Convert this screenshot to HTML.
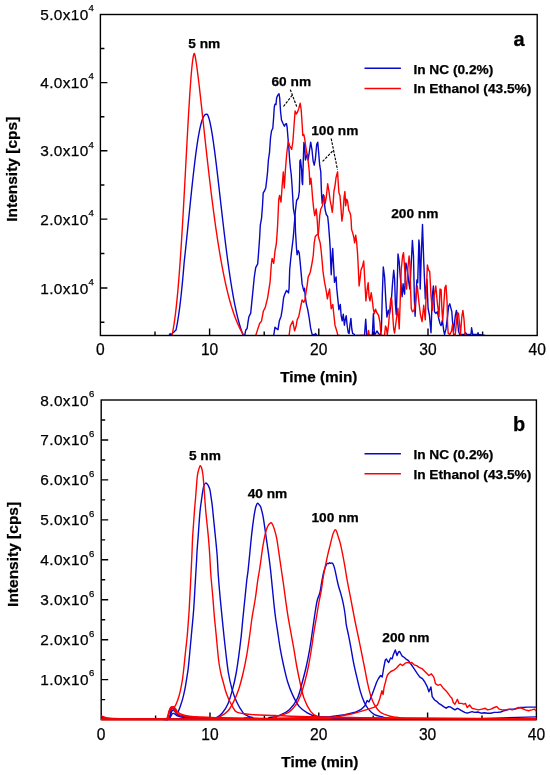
<!DOCTYPE html>
<html><head><meta charset="utf-8"><title>Chromatograms</title><style>
html,body{margin:0;padding:0;background:#fff;width:550px;height:775px;overflow:hidden}
svg{display:block}
text{font-family:"Liberation Sans",Arial,sans-serif;fill:#000;stroke:#000;stroke-width:0.25px}
.tl{font-size:15.6px}
.yl{font-size:15.4px;letter-spacing:0.4px}
.sup{font-size:9.6px}
.ti{font-size:15.3px;font-weight:bold}
.ti2{font-size:15.5px;font-weight:bold}
.an{font-size:13.7px;font-weight:bold}
.pl{font-size:20px;font-weight:bold}
</style></head><body>
<svg width="550" height="775" viewBox="0 0 550 775">
<defs><clipPath id="ca"><rect x="100.4" y="14.5" width="436.8" height="320.6"/></clipPath><clipPath id="cb"><rect x="101.2" y="400" width="435.2" height="321.5"/></clipPath></defs>
<g clip-path="url(#ca)">
<g fill="none" stroke-width="1.4" stroke-linejoin="round" stroke-linecap="round">
<path d="M169,335.6 L170.2,333.6 L171.3,334.8 L172.9,332.7 L174.4,331.6 L176,330.04 L176.22,328.99 L176.44,327.92 L176.66,326.82 L176.87,325.69 L177.09,324.52 L177.3,323.33 L177.52,322.1 L177.73,320.84 L177.94,319.55 L178.15,318.23 L178.36,316.87 L178.57,315.48 L178.78,314.06 L178.99,312.6 L179.19,311.12 L179.4,309.6 L179.6,308.04 L179.81,306.46 L180.01,304.84 L180.21,303.18 L180.41,301.5 L180.61,299.78 L180.81,298.03 L181.01,296.25 L181.2,294.43 L181.4,292.59 L181.59,290.71 L181.79,288.8 L181.98,286.86 L182.17,284.9 L182.36,282.9 L182.56,280.87 L182.74,278.82 L182.93,276.73 L183.12,274.63 L183.31,272.49 L183.49,270.33 L183.68,268.14 L183.87,265.93 L184.05,263.7 L184.25,261.44 L184.5,259.16 L184.75,256.86 L185,254.55 L185.25,252.21 L185.5,249.86 L185.75,247.49 L186,245.1 L186.25,242.7 L186.5,240.29 L186.75,237.87 L187,235.44 L187.25,232.99 L187.5,230.54 L187.75,228.09 L188,225.62 L188.25,223.16 L188.5,220.69 L188.75,218.22 L189,215.75 L189.25,213.28 L189.5,210.82 L189.75,208.36 L190,205.9 L190.25,203.46 L190.5,201.02 L190.75,198.59 L191,196.18 L191.25,193.78 L191.5,191.39 L191.75,189.02 L192,186.67 L192.25,184.33 L192.5,182.02 L192.75,179.73 L193,177.46 L193.25,175.21 L193.5,173 L193.75,170.81 L194,168.64 L194.25,166.51 L194.5,164.41 L194.75,162.34 L195,160.31 L195.25,158.31 L195.5,156.34 L195.75,154.42 L196,152.53 L196.25,150.68 L196.5,148.87 L196.75,147.1 L197,145.37 L197.25,143.69 L197.5,142.05 L197.75,140.45 L198,138.9 L198.25,137.39 L198.5,135.93 L198.75,134.52 L199,133.15 L199.25,131.83 L199.5,130.57 L199.75,129.34 L200,128.17 L200.25,127.05 L200.5,125.97 L200.75,124.95 L201,123.97 L201.25,123.04 L201.5,122.17 L201.75,121.34 L202,120.56 L202.25,119.83 L202.5,119.15 L202.75,118.51 L203,117.92 L203.25,117.38 L203.5,116.89 L203.75,116.44 L204,116.03 L204.25,115.67 L204.5,115.35 L204.75,115.08 L205,114.84 L205.25,114.64 L205.5,114.48 L205.75,114.35 L206,114.26 L206.25,114.2 L206.5,114.16 L206.75,114.15 L207,114.21 L207.25,114.41 L207.5,114.73 L207.75,115.14 L208,115.65 L208.25,116.24 L208.5,116.91 L208.75,117.66 L209,118.48 L209.25,119.37 L209.5,120.32 L209.75,121.35 L210,122.43 L210.25,123.57 L210.5,124.77 L210.75,126.03 L211,127.34 L211.25,128.7 L211.5,130.11 L211.75,131.57 L212,133.08 L212.25,134.63 L212.5,136.22 L212.75,137.86 L213,139.53 L213.25,141.24 L213.5,142.99 L213.75,144.77 L214,146.59 L214.25,148.43 L214.5,150.31 L214.75,152.21 L215,154.15 L215.25,156.1 L215.5,158.08 L215.75,160.09 L216,162.11 L216.25,164.16 L216.5,166.22 L216.75,168.31 L217,170.4 L217.25,172.52 L217.5,174.64 L217.75,176.78 L218,178.93 L218.25,181.09 L218.5,183.25 L218.75,185.43 L219,187.61 L219.25,189.79 L219.5,191.98 L219.75,194.18 L220,196.37 L220.25,198.57 L220.5,200.76 L220.75,202.96 L221,205.15 L221.25,207.34 L221.5,209.53 L221.75,211.71 L222,213.88 L222.25,216.05 L222.5,218.21 L222.75,220.37 L223,222.51 L223.25,224.65 L223.5,226.77 L223.75,228.88 L224,230.99 L224.25,233.08 L224.5,235.15 L224.75,237.22 L225,239.27 L225.25,241.3 L225.5,243.32 L225.75,245.33 L226,247.31 L226.25,249.28 L226.5,251.24 L226.75,253.18 L227,255.09 L227.25,256.99 L227.5,258.88 L227.75,260.74 L228,262.58 L228.25,264.4 L228.5,266.21 L228.75,267.99 L229,269.75 L229.25,271.5 L229.5,273.22 L229.75,274.92 L230,276.6 L230.25,278.25 L230.5,279.89 L230.75,281.5 L231,283.1 L231.25,284.67 L231.5,286.21 L231.75,287.74 L232,289.24 L232.25,290.73 L232.5,292.19 L232.75,293.63 L233,295.04 L233.25,296.43 L233.5,297.81 L233.75,299.16 L234,300.48 L234.25,301.79 L234.5,303.07 L234.75,304.34 L235,305.58 L235.25,306.79 L235.5,307.99 L235.75,309.17 L236,310.32 L236.25,311.46 L236.5,312.57 L236.75,313.66 L237,314.73 L237.25,315.78 L237.5,316.82 L237.75,317.83 L238,318.82 L238.25,319.79 L238.5,320.74 L238.75,321.67 L239,322.59 L239.25,323.48 L239.5,324.36 L239.75,325.21 L240,326.05 L240.25,326.87 L240.5,327.68 L240.75,328.46 L241,329.23 L241.25,329.98 L241.5,330.72 L241.75,331.44 L242,332.14 L242.25,332.83 L242.5,333.5 L242.75,334.15 L243,334.79 L243.25,335.41 L243.5,336.02 L243.75,336.62" stroke="#0808c8"/>
<path d="M244,335.5 L244.8,334.8 L245.7,330.3 L247.1,328.5 L248,322.2 L248.9,316.8 L250.7,313.1 L251.6,304.1 L252.5,295.1 L253.4,286.1 L254.3,277 L255.7,267.7 L257.7,263.9 L258.6,252.3 L259.6,238.1 L260.3,225.2 L261.5,218.7 L262.5,205.8 L263.2,192.9 L264.5,191 L265.8,187.7 L266.7,180 L267.6,171.6 L268.4,160 L269.5,152.6 L270.5,138 L271.5,131 L272.8,128.3 L273.6,118 L274.3,107 L275,104.2 L276,104.5 L276.6,98 L277.6,95.4 L279,93.7 L279.7,98 L280.6,112 L281.5,120 L283,123.5 L284.4,126.2 L285.5,124 L286.4,123.5 L287.1,127 L288,138 L288.8,147 L289.5,158 L290.4,168 L291.2,174 L292,185 L292.6,195 L293.4,208.7 L295.1,218 L295.5,232 L296,240 L296.5,248.5 L297.1,254.8 L298.2,250.6 L299.2,252.7 L300.2,262.6 L301.1,272.6 L302.1,283.9 L303.1,288.2 L303.9,291 L304.5,288.2 L305.3,296.7 L306.3,303.8 L307.7,309.4 L309.2,318 L310.6,327.9 L312,334.2 L314.2,335 L315.6,333.6 L317,335.5" stroke="#0808c8"/>
<path d="M273.7,335.5 L275,327.2 L276.2,328.4 L278,329.7 L279.3,321.1 L281.1,316.2 L282.3,308.8 L283.6,297.8 L284.8,294.1 L286.6,290.4 L288.5,292.9 L289.1,288 L289.7,269.5 L290.9,257.3 L292.1,247 L293.2,238 L294.2,226 L295.3,212 L296.6,200.5 L298.3,198 L299.3,191.5 L299.7,176 L299.9,161 L300.5,159.7 L301.6,170 L302.1,182 L302.6,184.5 L303.3,160.1 L303.9,142.5 L304.7,146.6 L305.4,160 L306.3,157 L307.3,154.2 L308.2,160 L309.3,152 L310.7,142.2 L312,149.8 L313.1,160.8 L314.2,165.2 L315.3,159.7 L316.7,144.4 L317.8,142.2 L318.6,152 L319.7,165.2 L320.8,172 L321.2,185 L321.6,195 L322.2,203.5 L323.3,194.8 L324.1,200.2 L325.2,210.1 L326.3,214.5 L327.7,216.7 L328.5,224.4 L329.6,238.6 L330.3,250 L330.6,260 L331.2,274.7 L332,258 L332.7,248.5 L333.5,264 L334.5,282.4 L336.1,276.9 L336.7,287.9 L337.8,298.9 L338.9,309.8 L340.3,304.4 L341.1,315.3 L342.2,320.8 L343.3,314.2 L344.4,325.2 L345.2,320 L346.2,315.8 L347.2,326 L348.2,332.5 L349.1,333.6 L350,324.5 L350.9,318.4 L351.8,329 L352.7,333.6 L354.1,334.1 L355,335.5" stroke="#0808c8"/>
<path d="M356,335.5 L364.5,335.5 L365.7,319.1 L366.8,335.5 L372.3,335.5 L373.4,313.6 L374.5,335.5 L376.9,331 L378.2,333 L380.2,335.5 L381.4,330 L382.3,295 L383.3,267 L384.6,277 L385.8,300 L386.9,317 L387.9,312.2 L388.5,310.2 L389.4,314.7 L391.1,304.4 L392.4,285.1 L393.7,270.3 L394.6,278.7 L395.4,304.4 L396.3,314.7 L397.2,285.1 L398,254 L399.1,261 L400.1,274.8 L401.4,289 L402.1,296.7 L403.1,283.8 L404,291.5 L404.6,294.1 L405.9,263 L407.2,268.4 L408.8,282.5 L409.8,289 L410.6,275 L411.3,262 L412.4,240.5 L413.5,256 L414.4,300 L415.1,316.3 L416.3,290 L416.9,280 L417.7,282.7 L418.9,240 L419.5,246.4 L420.2,289 L421.3,255.3 L422.5,224.5 L423.7,260.2 L425.3,298.9 L426.9,279.5 L428.1,308.5 L429.4,315 L431,332.7 L432.3,295.6 L433.4,286 L434.5,311.8 L435.8,313.4 L437.4,311.8 L439,319.8 L440,323.5 L441.1,325.6 L442.4,320.2 L443.8,331.1 L444.6,334.4 L446,328.9 L447.6,315.8 L448.7,306 L449.8,303.8 L450.9,308.2 L451.8,311.5 L452.5,321.3 L453.6,331.1 L455.3,315.8 L456.4,310.4 L457.5,319.1 L458.5,331.1 L459.6,334.4 L464.5,334.4 L465.6,332.7 L466.7,334.4 L471,334.4 L471.6,327.8 L472.7,334.4 L477.5,334.4 L478,332.7 L478.7,334.4 L485,335.5" stroke="#0808c8"/>
<path d="M171.75,336.51 L172,335.39 L172.25,334.2 L172.5,332.97 L172.75,331.68 L173,330.33 L173.25,328.92 L173.5,327.45 L173.75,325.92 L174,324.33 L174.25,322.67 L174.5,320.94 L174.75,319.15 L175,317.28 L175.25,315.35 L175.5,313.34 L175.75,311.25 L176,309.09 L176.25,306.85 L176.5,304.54 L176.75,302.14 L177,299.67 L177.25,297.11 L177.5,294.48 L177.75,291.76 L178,288.95 L178.25,286.07 L178.5,283.1 L178.75,280.04 L179,276.91 L179.25,273.68 L179.5,270.38 L179.75,266.99 L180,263.52 L180.25,259.97 L180.5,256.34 L180.75,252.63 L181,248.84 L181.25,244.97 L181.5,241.03 L181.75,237.02 L182,232.94 L182.25,228.79 L182.5,224.58 L182.75,220.3 L183,215.97 L183.25,211.58 L183.5,207.14 L183.75,202.65 L184,198.12 L184.25,193.55 L184.5,188.94 L184.75,184.31 L185,179.65 L185.25,174.97 L185.5,170.28 L185.75,165.58 L186,160.88 L186.25,156.19 L186.5,151.5 L186.75,146.84 L187,142.19 L187.25,137.58 L187.5,133.01 L187.75,128.48 L188,124.01 L188.25,119.6 L188.5,115.25 L188.75,110.98 L189,106.8 L189.25,102.71 L189.5,98.72 L189.75,94.84 L190,91.08 L190.25,87.44 L190.5,83.94 L190.75,80.57 L191,77.36 L191.25,74.31 L191.5,71.43 L191.75,68.72 L192,66.2 L192.25,63.87 L192.5,61.74 L192.75,59.83 L193,58.14 L193.25,56.68 L193.5,55.46 L193.75,54.5 L194,53.82 L194.25,53.44 L194.5,53.63 L194.75,54.46 L195,55.52 L195.25,56.75 L195.5,58.11 L195.75,59.57 L196,61.13 L196.25,62.76 L196.5,64.46 L196.75,66.22 L197,68.05 L197.25,69.92 L197.5,71.84 L197.75,73.8 L198,75.8 L198.25,77.83 L198.5,79.9 L198.75,81.99 L199,84.11 L199.25,86.26 L199.5,88.43 L199.75,90.62 L200,92.83 L200.25,95.05 L200.5,97.29 L200.75,99.54 L201,101.81 L201.25,104.08 L201.5,106.37 L201.75,108.66 L202,110.96 L202.25,113.26 L202.5,115.57 L202.75,117.88 L203,120.19 L203.25,122.5 L203.5,124.82 L203.75,127.13 L204,129.45 L204.25,131.76 L204.5,134.06 L204.75,136.37 L205,138.67 L205.25,140.96 L205.5,143.25 L205.75,145.54 L206,147.81 L206.25,150.08 L206.5,152.34 L206.75,154.6 L207,156.84 L207.25,159.08 L207.5,161.3 L207.75,163.52 L208,165.72 L208.25,167.91 L208.5,170.1 L208.75,172.27 L209,174.43 L209.25,176.57 L209.5,178.71 L209.75,180.83 L210,182.93 L210.25,185.03 L210.5,187.11 L210.75,189.18 L211,191.23 L211.25,193.27 L211.5,195.29 L211.75,197.3 L212,199.29 L212.25,201.27 L212.5,203.24 L212.75,205.18 L213,207.12 L213.25,209.03 L213.5,210.94 L213.75,212.82 L214,214.69 L214.25,216.55 L214.5,218.38 L214.75,220.21 L215,222.01 L215.25,223.8 L215.5,225.57 L215.75,227.33 L216,229.07 L216.25,230.79 L216.5,232.5 L216.75,234.19 L217,235.87 L217.25,237.53 L217.5,239.17 L217.75,240.79 L218,242.4 L218.25,244 L218.5,245.57 L218.75,247.13 L219,248.67 L219.25,250.2 L219.5,251.71 L219.75,253.21 L220,254.69 L220.25,256.15 L220.5,257.59 L220.75,259.02 L221,260.44 L221.25,261.84 L221.5,263.22 L221.75,264.59 L222,265.94 L222.25,267.27 L222.5,268.59 L222.75,269.9 L223,271.19 L223.25,272.46 L223.5,273.72 L223.75,274.97 L224,276.19 L224.25,277.41 L224.5,278.61 L224.75,279.79 L225,280.96 L225.25,282.12 L225.5,283.26 L225.75,284.39 L226,285.5 L226.25,286.6 L226.5,287.68 L226.75,288.75 L227,289.81 L227.25,290.85 L227.5,291.88 L227.75,292.9 L228,293.9 L228.25,294.89 L228.5,295.87 L228.75,296.83 L229,297.78 L229.25,298.72 L229.5,299.64 L229.75,300.56 L230,301.46 L230.25,302.34 L230.5,303.22 L230.75,304.08 L231,304.94 L231.25,305.78 L231.5,306.6 L231.75,307.42 L232,308.23 L232.25,309.02 L232.5,309.8 L232.75,310.57 L233,311.34 L233.25,312.09 L233.5,312.82 L233.75,313.55 L234,314.27 L234.25,314.98 L234.5,315.67 L234.75,316.36 L235,317.04 L235.25,317.71 L235.5,318.36 L235.75,319.01 L236,319.65 L236.25,320.28 L236.5,320.89 L236.75,321.5 L237,322.1 L237.25,322.7 L237.5,323.28 L237.75,323.85 L238,324.42 L238.25,324.97 L238.5,325.52 L238.75,326.06 L239,326.59 L239.25,327.11 L239.5,327.63 L239.75,328.13 L240,328.63 L240.25,329.12 L240.5,329.6 L240.75,330.08 L241,330.55 L241.25,331.01 L241.5,331.46 L241.75,331.91 L242,332.35 L242.25,332.78 L242.5,333.2 L242.75,333.62 L243,334.03 L243.25,334.44 L243.5,334.83 L243.75,335.23 L244,335.61 L244.25,335.99 L244.5,336.36 L244.75,336.73" stroke="#ff0000"/>
<path d="M255.7,335.5 L257.2,330.9 L259.6,323.5 L261.5,321.1 L263.3,311.3 L265.2,307.6 L267.6,297.8 L270.1,281.8 L271.3,264.6 L272.1,258.5 L273.7,263.4 L275,251.1 L276.3,244 L277,235 L277.7,223.8 L278.3,210 L278.7,200 L279.6,195.5 L281,202 L282.4,182.5 L283.3,172 L284.3,188 L285.4,170 L286.7,154 L288.2,141.5 L289.8,146 L291.7,149.3 L292.9,141.5 L294,126 L295.1,111 L296.2,114 L297.5,112 L298.8,108.5 L300.2,103.3 L301.2,110 L302,122 L302.8,135.5 L303.8,134.5 L304.8,139.5 L305.6,145.5 L306.6,152 L307.6,156.5 L308.5,164 L309.3,172 L309.8,184.5 L310.9,178.3 L311.5,183.8 L312.5,197 L313.6,207.9 L314.7,215.6 L316.2,209 L316.9,215.6 L317.5,224.4 L318,233.1 L318.6,237.5 L320.2,243 L321.3,252 L322.2,262 L323,271.5 L324.6,282.4 L326.3,291.2 L327.4,298.9 L328.5,293.4 L329.6,289 L330.3,298.9 L331.2,308.7 L332.8,304.4 L333.9,315.3 L335,325.2 L336.7,330.7 L337.8,335.1 L340,335.5" stroke="#ff0000"/>
<path d="M289.1,335.5 L290.3,326 L292.8,321.1 L294.6,330.9 L296.1,326.3 L297.2,319.7 L298.8,316.4 L300.5,307.6 L302.1,300 L303.8,302.2 L304.9,300 L306,292.3 L307.1,285.7 L308.2,276.9 L309.8,273.6 L310.4,271.5 L311.5,266 L312.5,260.5 L313.3,255 L314.2,243 L315.3,236.4 L316.9,234.8 L318.3,234.2 L318.9,228 L319.7,215.6 L320.8,209 L322.4,205.7 L323.3,200.2 L324.1,195.8 L325.2,203.5 L326.3,196.9 L327.7,183.8 L329,191.5 L330.1,200.2 L331.2,205.7 L332.3,212.3 L333.2,202.4 L333.9,191.5 L335,186 L336.1,177.2 L337.6,171.8 L338.3,183.8 L338.9,192.5 L340,195.8 L340.8,205.7 L341.9,221.1 L343,213.4 L344.1,197 L344.9,191.5 L345.7,205.7 L346.6,199.1 L347.6,201.3 L348.7,210.1 L349.8,212.3 L350.6,215 L351.1,220 L351.6,229.6 L352.7,232.9 L353.8,237.3 L354.6,242.8 L355.7,235.1 L356.6,241.7 L357.5,252.6 L358.2,265.8 L359.1,286 L360,279.1 L361,270 L362.6,266 L363.7,261 L364.5,275 L365.9,300.9 L367.3,288.2 L368.2,282.7 L369.1,297.3 L370,300.9 L371.2,292.7 L372.3,300 L373.2,308.2 L374.3,313.6 L375.5,309.1 L376.8,312.7 L378.6,315.5 L380,322.7 L380.9,333.6 L381.4,335.5" stroke="#ff0000"/>
<path d="M360,335.5 L367.6,335.5 L368.5,330.5 L369.4,335.5 L381.4,335.5 L384.5,335.5 L385.5,326 L386.4,328 L387.3,335 L388.6,324.5 L390,306.4 L390.9,298.2 L391.8,300 L392.5,312 L393.7,329 L394.6,333 L396.3,320 L397.9,308.3 L399.2,328.9 L400.1,304.4 L401.2,270 L402.6,256 L403.5,252.6 L404.5,266 L405.6,284 L406.6,289 L407.9,268 L409.1,256 L410,265 L410.6,290 L411.3,308.5 L412.4,311.8 L413.5,311 L414.3,309.6 L415.6,300.5 L417.3,286 L418.9,302.1 L420.5,315 L422.1,321.5 L423.7,305.3 L425.3,319.8 L426.1,295.6 L427.4,265 L428.5,269.8 L429.7,271.5 L431,295.6 L432.3,310.2 L434.2,295.6 L435.8,286 L437.4,303.7 L439,316.6 L440,289 L441.1,289.6 L442,311.5 L442.7,320.2 L443.8,304.9 L444.9,287.5 L446,285.3 L447.1,302.7 L447.6,324.5 L448.2,333.3 L449.8,334.4 L451.5,331.1 L452.5,324.5 L453.6,334.4 L455.3,334.4 L456.4,322.4 L457.5,312.5 L458.5,313.6 L459.6,324.5 L460.5,334.4 L461.8,316.9 L462.9,310.4 L464,319.1 L465.1,335 L467,335.5" stroke="#ff0000"/>
</g>
</g>
<rect x="100.4" y="14.5" width="436.8" height="321" fill="none" stroke="#000" stroke-width="1.4"/>
<path d="M209.6,335.5V328.5M318.8,335.5V328.5M428,335.5V328.5M155,335.5V331.5M264.2,335.5V331.5M373.4,335.5V331.5M482.6,335.5V331.5M100.4,288H107.4M100.4,219.1H107.4M100.4,150.8H107.4M100.4,82.6H107.4M100.4,322.2H104.4M100.4,253.55H104.4M100.4,184.95H104.4M100.4,116.7H104.4M100.4,48.55H104.4" stroke="#000" stroke-width="1.4" fill="none"/>
<text x="100.4" y="355.3" class="tl" text-anchor="middle">0</text>
<text x="209.6" y="355.3" class="tl" text-anchor="middle">10</text>
<text x="318.8" y="355.3" class="tl" text-anchor="middle">20</text>
<text x="428" y="355.3" class="tl" text-anchor="middle">30</text>
<text x="537.2" y="355.3" class="tl" text-anchor="middle">40</text>
<text x="88.8" y="293.5" class="yl" text-anchor="end">1.0x10</text>
<text x="88.5" y="284.8" class="sup">4</text>
<text x="88.8" y="224.6" class="yl" text-anchor="end">2.0x10</text>
<text x="88.5" y="215.9" class="sup">4</text>
<text x="88.8" y="156.3" class="yl" text-anchor="end">3.0x10</text>
<text x="88.5" y="147.6" class="sup">4</text>
<text x="88.8" y="88.1" class="yl" text-anchor="end">4.0x10</text>
<text x="88.5" y="79.4" class="sup">4</text>
<text x="88.8" y="20" class="yl" text-anchor="end">5.0x10</text>
<text x="88.5" y="11.3" class="sup">4</text>
<text x="318.8" y="381.9" class="ti" text-anchor="middle">Time (min)</text>
<text transform="translate(16.9,169.25) rotate(-90)" class="ti2" text-anchor="middle">Intensity [cps]</text>
<rect x="101.2" y="400" width="435.2" height="319.6" fill="none" stroke="#000" stroke-width="1.4"/>
<path d="M210,719.6V712.6M318.8,719.6V712.6M427.6,719.6V712.6M155.6,719.6V715.6M264.4,719.6V715.6M373.2,719.6V715.6M482,719.6V715.6M101.2,679.65H108.2M101.2,639.7H108.2M101.2,599.75H108.2M101.2,559.8H108.2M101.2,519.85H108.2M101.2,479.9H108.2M101.2,439.95H108.2M101.2,699.62H105.2M101.2,659.68H105.2M101.2,619.73H105.2M101.2,579.77H105.2M101.2,539.83H105.2M101.2,499.88H105.2M101.2,459.93H105.2M101.2,419.98H105.2" stroke="#000" stroke-width="1.4" fill="none"/>
<text x="101.2" y="739.7" class="tl" text-anchor="middle">0</text>
<text x="210" y="739.7" class="tl" text-anchor="middle">10</text>
<text x="318.8" y="739.7" class="tl" text-anchor="middle">20</text>
<text x="427.6" y="739.7" class="tl" text-anchor="middle">30</text>
<text x="536.4" y="739.7" class="tl" text-anchor="middle">40</text>
<text x="88.9" y="685.15" class="yl" text-anchor="end">1.0x10</text>
<text x="88.9" y="676.45" class="sup">6</text>
<text x="88.9" y="645.2" class="yl" text-anchor="end">2.0x10</text>
<text x="88.9" y="636.5" class="sup">6</text>
<text x="88.9" y="605.25" class="yl" text-anchor="end">3.0x10</text>
<text x="88.9" y="596.55" class="sup">6</text>
<text x="88.9" y="565.3" class="yl" text-anchor="end">4.0x10</text>
<text x="88.9" y="556.6" class="sup">6</text>
<text x="88.9" y="525.35" class="yl" text-anchor="end">5.0x10</text>
<text x="88.9" y="516.65" class="sup">6</text>
<text x="88.9" y="485.4" class="yl" text-anchor="end">6.0x10</text>
<text x="88.9" y="476.7" class="sup">6</text>
<text x="88.9" y="445.45" class="yl" text-anchor="end">7.0x10</text>
<text x="88.9" y="436.75" class="sup">6</text>
<text x="88.9" y="405.5" class="yl" text-anchor="end">8.0x10</text>
<text x="88.9" y="396.8" class="sup">6</text>
<text x="319.9" y="766.8" class="ti" text-anchor="middle">Time (min)</text>
<text transform="translate(18.2,554.4) rotate(-90)" class="ti2" text-anchor="middle">Intensity [cps]</text>
<g clip-path="url(#cb)">
<path d="M101.2,719.6H536.4" stroke="#ff0000" stroke-width="1.6"/>
<path d="M200,718.9L420,718.9L480,718.5L536.4,716.8" stroke="#0808c8" stroke-width="1.2" fill="none"/>
<g fill="none" stroke-width="1.4" stroke-linejoin="round" stroke-linecap="round">
<path d="M166,719.6 C166.42,719.5 167.83,719.6 168.5,719 C169.17,718.4 169.53,717.08 170,716 C170.47,714.92 170.88,713.45 171.3,712.5 C171.72,711.55 172.1,710.67 172.5,710.3 C172.9,709.93 173.28,710.05 173.7,710.3 C174.12,710.55 174.48,711.18 175,711.8 C175.52,712.42 176.05,713.37 176.8,714 C177.55,714.63 177.97,715.1 179.5,715.6 C181.03,716.1 182.58,716.63 186,717 C189.42,717.37 191,717.53 200,717.8 C209,718.07 233.33,718.47 240,718.6" stroke="#0808c8"/>
<path d="M167,719.6 C167.42,719.43 168.83,719.23 169.5,718.6 C170.17,717.97 170.53,716.6 171,715.8 C171.47,715 171.87,714.2 172.3,713.8 C172.73,713.4 173.12,713.32 173.6,713.4 C174.08,713.48 174.55,713.9 175.2,714.3 C175.85,714.7 176.2,715.32 177.5,715.8 C178.8,716.28 179.25,716.8 183,717.2 C186.75,717.6 197.17,718.03 200,718.2" stroke="#0808c8"/>
<path d="M101.2,717.8 C104.33,717.97 109.37,718.57 120,718.8 C130.63,719.03 156.92,719.2 165,719.2 C173.08,719.2 167.63,719.42 168.5,718.8 C169.37,718.18 169.8,716.8 170.2,715.5 C170.6,714.2 170.58,712.23 170.9,711 C171.22,709.77 171.67,708.55 172.1,708.1 C172.53,707.65 173.1,708.13 173.5,708.3 C173.9,708.47 174,708.65 174.5,709.1 C175,709.55 175.93,710.52 176.5,711 C177.07,711.48 177.5,712.17 177.9,712 C178.3,711.83 178.5,710.97 178.9,710 C179.3,709.03 179.65,708.13 180.3,706.2 C180.95,704.27 182.02,701.32 182.8,698.4 C183.58,695.48 184.37,691.92 185,688.7 C185.63,685.48 186.08,682.32 186.6,679.1 C187.12,675.88 187.68,672.63 188.1,669.4 C188.52,666.17 188.78,662.93 189.1,659.7 C189.42,656.47 189.53,655.03 190,650 C190.47,644.97 191.28,636.3 191.9,629.5 C192.52,622.7 193.13,617.1 193.7,609.2 C194.27,601.3 194.82,590.3 195.3,582.1 C195.78,573.9 196.3,565.3 196.6,560 C196.9,554.7 196.85,554.07 197.1,550.3 C197.35,546.53 197.78,541.7 198.1,537.4 C198.42,533.1 198.68,528.8 199,524.5 C199.32,520.2 199.62,515.47 200,511.6 C200.38,507.73 200.87,504.53 201.3,501.3 C201.73,498.07 202.17,494.78 202.6,492.2 C203.03,489.62 203.37,487.33 203.9,485.8 C204.43,484.27 205.25,483.3 205.8,483 C206.35,482.7 206.77,483.53 207.2,484 C207.63,484.47 207.95,484.85 208.4,485.8 C208.85,486.75 209.48,487.98 209.9,489.7 C210.32,491.42 210.52,493.53 210.9,496.1 C211.28,498.67 211.77,501.45 212.2,505.1 C212.63,508.75 213.07,513.7 213.5,518 C213.93,522.3 214.37,526.6 214.8,530.9 C215.23,535.2 215.7,539.62 216.1,543.8 C216.5,547.98 216.83,550.75 217.2,556 C217.57,561.25 217.83,568.63 218.3,575.3 C218.77,581.97 219.38,589.13 220,596 C220.62,602.87 221.33,609.8 222,616.5 C222.67,623.2 223.3,629.62 224,636.2 C224.7,642.78 225.45,649.78 226.2,656 C226.95,662.22 227.57,668.1 228.5,673.5 C229.43,678.9 230.47,683.73 231.8,688.4 C233.13,693.07 234.63,697.45 236.5,701.5 C238.37,705.55 241.25,710.35 243,712.7 C244.75,715.05 245.43,714.82 247,715.6 C248.57,716.38 248.57,716.92 252.4,717.4 C256.23,717.88 222.67,718.27 270,718.5 C317.33,718.73 492,718.75 536.4,718.8" stroke="#0808c8"/>
<path d="M101.2,718.8 C117.67,718.83 181.87,719.03 200,719 C218.13,718.97 207.18,718.87 210,718.6 C212.82,718.33 214.82,718.38 216.9,717.4 C218.98,716.42 220.63,715.03 222.5,712.7 C224.37,710.37 226.38,707.45 228.1,703.4 C229.82,699.35 231.47,693.38 232.8,688.4 C234.13,683.42 235.08,679.1 236.1,673.5 C237.12,667.9 238.05,661.03 238.9,654.8 C239.75,648.57 240.52,642.33 241.2,636.1 C241.88,629.87 242.38,623.63 243,617.4 C243.62,611.17 244.27,604.93 244.9,598.7 C245.53,592.47 246.27,584.73 246.8,580 C247.33,575.27 247.58,574.93 248.1,570.3 C248.62,565.67 249.3,558.22 249.9,552.2 C250.5,546.18 251.1,539.62 251.7,534.2 C252.3,528.78 252.9,523.92 253.5,519.7 C254.1,515.48 254.8,511.35 255.3,508.9 C255.8,506.45 256.12,505.97 256.5,505 C256.88,504.03 257.18,503.18 257.6,503.1 C258.02,503.02 258.48,503.83 259,504.5 C259.52,505.17 260.03,505.17 260.7,507.1 C261.37,509.03 262.25,512.18 263,516.1 C263.75,520.02 264.53,526.08 265.2,530.6 C265.87,535.12 266.4,539 267,543.2 C267.6,547.4 268.2,551.28 268.8,555.8 C269.4,560.32 270,564.87 270.6,570.3 C271.2,575.73 271.8,582.38 272.4,588.4 C273,594.42 273.67,601.47 274.2,606.4 C274.73,611.33 275,613.62 275.6,618 C276.2,622.38 277.02,627.52 277.8,632.7 C278.58,637.88 279.33,643.63 280.3,649.1 C281.27,654.57 282.38,660.05 283.6,665.5 C284.82,670.95 286.1,676.9 287.6,681.8 C289.1,686.7 290.68,690.8 292.6,694.9 C294.52,699 296.65,703.4 299.1,706.4 C301.55,709.4 304.57,711.27 307.3,712.9 C310.03,714.53 311.72,715.38 315.5,716.2 C319.28,717.02 322.58,717.42 330,717.8 C337.42,718.18 325.67,718.33 360,718.5 C394.33,718.67 506.67,718.75 536,718.8" stroke="#0808c8"/>
<path d="M101.2,719 C126,719 221.87,719.25 250,719 C278.13,718.75 265.08,718.1 270,717.5 C274.92,716.9 276.28,716.7 279.5,715.4 C282.72,714.1 286.3,712.57 289.3,709.7 C292.3,706.83 295.32,702.85 297.5,698.2 C299.68,693.55 300.9,687.25 302.4,681.8 C303.9,676.35 305.28,670.95 306.5,665.5 C307.72,660.05 308.75,654.57 309.7,649.1 C310.65,643.63 311.48,637.55 312.2,632.7 C312.92,627.85 313.45,623.78 314,620 C314.55,616.22 314.95,613.33 315.5,610 C316.05,606.67 316.58,602.83 317.3,600 C318.02,597.17 319.07,595.98 319.8,593 C320.53,590.02 321.08,585.47 321.7,582.1 C322.32,578.73 322.85,575.38 323.5,572.8 C324.15,570.22 325,568.15 325.6,566.6 C326.2,565.05 326.62,564 327.1,563.5 C327.58,563 328.1,563.72 328.5,563.6 C328.9,563.48 329.17,562.85 329.5,562.8 C329.83,562.75 330,563.23 330.5,563.3 C331,563.37 331.9,562.65 332.5,563.2 C333.1,563.75 333.58,565 334.1,566.6 C334.62,568.2 335.08,570.48 335.6,572.8 C336.12,575.12 336.68,578.18 337.2,580.5 C337.72,582.82 338.13,584.63 338.7,586.7 C339.27,588.77 339.95,590.57 340.6,592.9 C341.25,595.23 342.02,598.18 342.6,600.7 C343.18,603.22 343.65,605.45 344.1,608 C344.55,610.55 344.93,613.2 345.3,616 C345.67,618.8 345.77,621.6 346.3,624.8 C346.83,628 347.75,631.48 348.5,635.2 C349.25,638.92 349.98,642.65 350.8,647.1 C351.62,651.55 352.42,656.97 353.4,661.9 C354.38,666.83 355.53,671.75 356.7,676.7 C357.87,681.65 359.17,687.4 360.4,691.6 C361.63,695.8 362.73,698.93 364.1,701.9 C365.47,704.87 366.87,707.28 368.6,709.4 C370.33,711.52 372.28,713.37 374.5,714.6 C376.72,715.83 379.43,716.18 381.9,716.8 C384.37,717.42 382.95,717.97 389.3,718.3 C395.65,718.63 395.55,718.68 420,718.8 C444.45,718.92 516.67,718.97 536,719" stroke="#0808c8"/>
<path d="M101.2,719 L250,719 L300,718 L330,716.8 L344.8,714.6 L355.2,712.3 L361.1,709.4 L364.9,705.7 L367.1,700.5 L368.9,702 L370.3,699 L372.3,694 L374.5,688 L376.7,682 L378.5,678.5 L380.6,675.5 L382.2,677 L383.7,668 L385.3,660 L386.4,659 L387.5,661 L388.7,662.5 L390.6,658 L392.1,658.8 L393.5,654.3 L395.3,650 L397,655.5 L398.5,652 L399.7,651.5 L401.9,655.8 L404.4,657.5 L406,659.1 L408.5,660.7 L410.9,664 L414.2,668.9 L417.5,673.8 L419.9,677.1 L422.4,678.7 L424.8,682 L427.3,686.9 L428.9,691.8 L430.9,686.9 L432.2,696.7 L434.6,700 L437.1,701.7 L438.7,703.3 L441.2,704.9 L443.6,706.6 L446.1,708.2 L448.6,706.6 L450.5,707 L452.5,708.3 L454.9,709.9 L457.4,708.3 L459,709.1 L461.5,710.7 L464.7,712.4 L467.2,713.2 L469.6,712.4 L472.1,711.6 L474.5,712.4 L477.8,712 L481.1,713.2 L484.4,712.7 L487.6,713.2 L490.9,713.2 L494.2,712.4 L497.5,712.4 L500.7,712 L504,710.7 L507.3,709.9 L510.6,709.1 L513.8,709.1 L517.1,708.3 L520.4,707.5 L523.6,707.5 L526.9,707.1 L530.2,707.1 L536,707.1" stroke="#0808c8"/>
<path d="M164,719.6 C164.42,719.5 165.87,719.6 166.5,719 C167.13,718.4 167.38,717.33 167.8,716 C168.22,714.67 168.58,712.33 169,711 C169.42,709.67 169.87,708.7 170.3,708 C170.73,707.3 171.13,707.02 171.6,706.8 C172.07,706.58 172.6,706.53 173.1,706.7 C173.6,706.87 174.08,707.28 174.6,707.8 C175.12,708.32 175.6,709.05 176.2,709.8 C176.8,710.55 177.27,711.53 178.2,712.3 C179.13,713.07 180,713.75 181.8,714.4 C183.6,715.05 185.97,715.73 189,716.2 C192.03,716.67 193.17,716.87 200,717.2 C206.83,717.53 213.33,717.9 230,718.2 C246.67,718.5 288.33,718.87 300,719" stroke="#ff0000"/>
<path d="M165,719.6 C165.42,719.4 166.87,719.33 167.5,718.4 C168.13,717.47 168.35,715.37 168.8,714 C169.25,712.63 169.73,711.07 170.2,710.2 C170.67,709.33 171.13,709 171.6,708.8 C172.07,708.6 172.47,708.67 173,709 C173.53,709.33 174.13,710.1 174.8,710.8 C175.47,711.5 175.97,712.47 177,713.2 C178.03,713.93 178.83,714.6 181,715.2 C183.17,715.8 184.33,716.37 190,716.8 C195.67,717.23 203.33,717.5 215,717.8 C226.67,718.1 252.5,718.47 260,718.6" stroke="#ff0000"/>
<path d="M101.2,715.8 C101.67,715.97 102.75,716.35 104,716.8 C105.25,717.25 106.87,718.13 108.7,718.5 C110.53,718.87 111.45,718.88 115,719 C118.55,719.12 121.67,719.15 130,719.2 C138.33,719.25 158.87,719.33 165,719.3 C171.13,719.27 166.27,719.57 166.8,719 C167.33,718.43 167.72,717.4 168.2,715.9 C168.68,714.4 169.22,711.43 169.7,710 C170.18,708.57 170.63,707.87 171.1,707.3 C171.57,706.73 172.05,706.68 172.5,706.6 C172.95,706.52 173.42,706.82 173.8,706.8 C174.18,706.78 174.35,707.08 174.8,706.5 C175.25,705.92 175.82,704.97 176.5,703.3 C177.18,701.63 178.18,698.93 178.9,696.5 C179.62,694.07 180.2,691.6 180.8,688.7 C181.4,685.8 182.02,682.32 182.5,679.1 C182.98,675.88 183.33,672.63 183.7,669.4 C184.07,666.17 184.37,662.93 184.7,659.7 C185.03,656.47 185.28,653.9 185.7,650 C186.12,646.1 186.77,640.97 187.2,636.3 C187.63,631.63 187.97,626.52 188.3,622 C188.63,617.48 188.82,615.85 189.2,609.2 C189.58,602.55 190.15,591.13 190.6,582.1 C191.05,573.07 191.57,562.45 191.9,555 C192.23,547.55 192.33,542.48 192.6,537.4 C192.87,532.32 193.2,528.8 193.5,524.5 C193.8,520.2 194.07,515.9 194.4,511.6 C194.73,507.3 195.15,503 195.5,498.7 C195.85,494.4 196.18,489.67 196.5,485.8 C196.82,481.93 197.03,478.18 197.4,475.5 C197.77,472.82 198.23,471.32 198.7,469.7 C199.17,468.08 199.67,465.92 200.2,465.8 C200.73,465.68 201.43,467.38 201.9,469 C202.37,470.62 202.67,472.7 203,475.5 C203.33,478.3 203.6,481.93 203.9,485.8 C204.2,489.67 204.48,494.4 204.8,498.7 C205.12,503 205.42,507.3 205.8,511.6 C206.18,515.9 206.67,520.2 207.1,524.5 C207.53,528.8 207.98,532.65 208.4,537.4 C208.82,542.15 209.18,546.68 209.6,553 C210.02,559.32 210.38,568.2 210.9,575.3 C211.42,582.4 212.13,588.82 212.7,595.6 C213.27,602.38 213.87,610.93 214.3,616 C214.73,621.07 214.97,622.62 215.3,626 C215.63,629.38 215.97,632.8 216.3,636.3 C216.63,639.8 216.92,643.05 217.3,647 C217.68,650.95 218.17,656.42 218.6,660 C219.03,663.58 219.42,665.83 219.9,668.5 C220.38,671.17 220.92,673.62 221.5,676 C222.08,678.38 222.72,680.3 223.4,682.8 C224.08,685.3 224.82,688.5 225.6,691 C226.38,693.5 227.28,695.8 228.1,697.8 C228.92,699.8 229.72,701.45 230.5,703 C231.28,704.55 231.95,705.72 232.8,707.1 C233.65,708.48 234.67,710.37 235.6,711.3 C236.53,712.23 237.17,712.32 238.4,712.7 C239.63,713.08 240.67,713.28 243,713.6 C245.33,713.92 247.07,714.28 252.4,714.6 C257.73,714.92 267.07,715.18 275,715.5 C282.93,715.82 287.5,716.17 300,716.5 C312.5,716.83 333.33,717.22 350,717.5 C366.67,717.78 368.93,717.98 400,718.2 C431.07,718.42 513.67,718.7 536.4,718.8" stroke="#ff0000"/>
<path d="M101.2,719 C117.67,719.03 181.03,719.4 200,719.2 C218.97,719 211.57,718.27 215,717.8 C218.43,717.33 218.42,717.57 220.6,716.4 C222.78,715.23 225.92,713.28 228.1,710.8 C230.28,708.32 231.98,704.92 233.7,701.5 C235.42,698.08 236.85,694.97 238.4,690.3 C239.95,685.63 241.6,679.42 243,673.5 C244.4,667.58 245.7,661.03 246.8,654.8 C247.9,648.57 248.73,642.23 249.6,636.1 C250.47,629.97 251.03,624.35 252,618 C252.97,611.65 254.43,604.33 255.4,598 C256.37,591.67 257.12,584.67 257.8,580 C258.48,575.33 259,573.17 259.5,570 C260,566.83 260.3,564.57 260.8,561 C261.3,557.43 261.97,552.1 262.5,548.6 C263.03,545.1 263.55,542.4 264,540 C264.45,537.6 264.78,535.95 265.2,534.2 C265.62,532.45 266.05,530.87 266.5,529.5 C266.95,528.13 267.4,526.95 267.9,526 C268.4,525.05 268.95,524.33 269.5,523.8 C270.05,523.27 270.7,522.68 271.2,522.8 C271.7,522.92 272,523.5 272.5,524.5 C273,525.5 273.52,526.58 274.2,528.8 C274.88,531.02 275.83,533.9 276.6,537.8 C277.37,541.7 278.08,547.38 278.8,552.2 C279.52,557.02 280.15,561.58 280.9,566.7 C281.65,571.82 282.45,576.88 283.3,582.9 C284.15,588.92 285.22,597.22 286,602.8 C286.78,608.38 287.18,611.42 288,616.4 C288.82,621.38 289.92,627.25 290.9,632.7 C291.88,638.15 292.95,643.63 293.9,649.1 C294.85,654.57 295.6,660.05 296.6,665.5 C297.6,670.95 298.67,676.35 299.9,681.8 C301.13,687.25 302.22,693.28 304,698.2 C305.78,703.12 308.42,708.3 310.6,711.3 C312.78,714.3 313.87,715.12 317.1,716.2 C320.33,717.28 293.52,717.37 330,717.8 C366.48,718.23 501.67,718.63 536,718.8" stroke="#ff0000"/>
<path d="M101.2,719.2 C127.67,719.17 231.03,719.45 260,719 C288.97,718.55 270.4,717.52 275,716.5 C279.6,715.48 284.13,714.85 287.6,712.9 C291.07,710.95 293.62,707.8 295.8,704.8 C297.98,701.8 299.2,698.73 300.7,694.9 C302.2,691.07 303.48,686.7 304.8,681.8 C306.12,676.9 307.5,670.95 308.6,665.5 C309.7,660.05 310.53,654.57 311.4,649.1 C312.27,643.63 312.95,638.05 313.8,632.7 C314.65,627.35 315.67,621.95 316.5,617 C317.33,612.05 317.98,607.53 318.8,603 C319.62,598.47 320.67,594.07 321.4,589.8 C322.13,585.53 322.5,581.53 323.2,577.4 C323.9,573.27 324.82,568.87 325.6,565 C326.38,561.13 327.13,557.55 327.9,554.2 C328.67,550.85 329.43,548 330.2,544.9 C330.97,541.8 331.87,537.83 332.5,535.6 C333.13,533.37 333.53,532.48 334,531.5 C334.47,530.52 334.87,529.7 335.3,529.7 C335.73,529.7 336.17,530.52 336.6,531.5 C337.03,532.48 337.28,533.62 337.9,535.6 C338.52,537.58 339.52,540.3 340.3,543.4 C341.08,546.5 341.83,550.33 342.6,554.2 C343.37,558.07 344.13,562.22 344.9,566.6 C345.67,570.98 346.42,576.12 347.2,580.5 C347.98,584.88 348.72,588.32 349.6,592.9 C350.48,597.48 351.57,603.15 352.5,608 C353.43,612.85 354.13,616.72 355.2,622 C356.27,627.28 357.78,634.28 358.9,639.7 C360.02,645.12 360.9,649.57 361.9,654.5 C362.9,659.43 363.92,664.35 364.9,669.3 C365.88,674.25 366.82,679.75 367.8,684.2 C368.78,688.65 369.68,692.55 370.8,696 C371.92,699.45 372.9,702.18 374.5,704.9 C376.1,707.62 377.93,710.45 380.4,712.3 C382.87,714.15 386.33,715.13 389.3,716 C392.27,716.87 393.08,717.08 398.2,717.5 C403.32,717.92 397.03,718.25 420,718.5 C442.97,718.75 516.67,718.92 536,719" stroke="#ff0000"/>
<path d="M101.2,719.3 L250,719.2 L300,718.8 L330,718.3 L352.2,713.8 L362.6,710.8 L370,708.6 L374.5,707.1 L377.5,704.9 L379.7,699 L381.9,690.8 L383.1,694.5 L384.1,687.1 L385.5,682 L386.4,678.2 L387.5,675 L388.7,673.5 L390.8,671.5 L393.8,670.1 L396.5,668 L398.7,665.5 L400.3,664 L402.7,665.6 L405.2,663.2 L407.6,662.4 L410.1,663.2 L411.7,662.4 L414.2,664.8 L416.6,665.6 L419.1,667.3 L422.4,668.9 L425.6,672.2 L428.9,675.5 L431.4,673.8 L433.8,677.1 L435.5,683.6 L437.9,685.3 L440.4,684.4 L443.6,688.6 L446.9,691.8 L449.4,695.1 L450.5,697 L451.6,697.6 L453.3,702.6 L454.9,704.2 L457.4,699.3 L459,703.4 L461.5,703.4 L463.9,704.2 L465.5,703.4 L467.2,707.5 L469.6,705 L472.1,708.3 L475.4,709.1 L478.6,709.9 L481.9,709.1 L485.2,708.3 L487.6,709.9 L490.9,709.1 L494.2,707.5 L496.6,706.6 L499.1,709.1 L502.4,709.9 L505.6,709.9 L508.9,709.1 L512.2,709.9 L515.5,709.1 L518.7,707.5 L522,708.3 L525.3,709.9 L528.6,710.7 L531.8,709.9 L534.3,709.1 L536,710.7" stroke="#ff0000"/>
</g>
</g>
<g stroke="#000" stroke-width="1.15" stroke-dasharray="2.6,1.3" fill="none"><path d="M290.3,89.6L297.1,107.6M283.5,106.5L292.5,94.8"/><path d="M331.2,138.5L337.5,169.7M322.6,161.4L332.5,151.2"/></g>
<text x="188.3" y="48" class="an">5 nm</text>
<text x="271.5" y="86.3" class="an">60 nm</text>
<text x="311.2" y="134.7" class="an">100 nm</text>
<text x="391.2" y="217.9" class="an">200 nm</text>
<text x="188.9" y="460.1" class="an">5 nm</text>
<text x="247.7" y="497.7" class="an">40 nm</text>
<text x="311.5" y="521.6" class="an">100 nm</text>
<text x="382.3" y="641.6" class="an">200 nm</text>
<path d="M364.5,68.2H400.9" stroke="#0808c8" stroke-width="1.4"/>
<path d="M364.5,88.5H400.9" stroke="#ff0000" stroke-width="1.4"/>
<text x="413.4" y="73.8" class="an">In NC (0.2%)</text>
<text x="413.4" y="93.1" class="an">In Ethanol (43.5%)</text>
<path d="M364.5,453.7H400.9" stroke="#0808c8" stroke-width="1.4"/>
<path d="M364.5,473.8H400.9" stroke="#ff0000" stroke-width="1.4"/>
<text x="413.4" y="459.1" class="an">In NC (0.2%)</text>
<text x="413.4" y="478.7" class="an">In Ethanol (43.5%)</text>
<text x="513.6" y="45.8" class="pl">a</text>
<text x="513" y="431.2" class="pl">b</text>
</svg>
</body></html>
